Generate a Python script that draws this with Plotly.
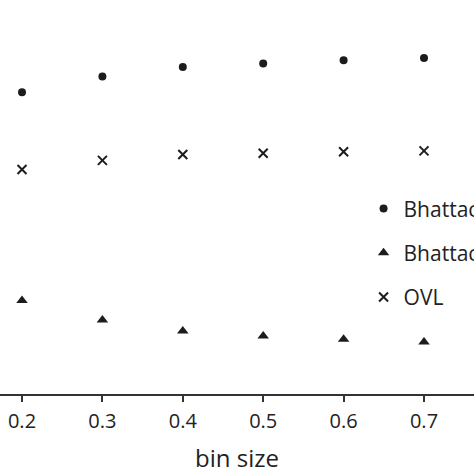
import plotly.graph_objects as go

bin_size = [0.2, 0.3, 0.4, 0.5, 0.6, 0.7]
bc_coef = [0.766, 0.806, 0.830, 0.839, 0.847, 0.853]
bc_dist = [0.237, 0.188, 0.160, 0.147, 0.139, 0.132]
ovl = [0.570, 0.593, 0.608, 0.611, 0.615, 0.617]

names = ["Bhattacharyya coefficient", "Bhattacharyya distance", "OVL"]
col = "#1c1c1c"
font = "Open Sans, Lato, sans-serif"

fig = go.Figure()
fig.add_trace(go.Scatter(x=bin_size, y=bc_coef, mode="markers", name=names[0],
                         legendgroup="a",
                         marker=dict(symbol="circle", size=8, color=col)))
fig.add_trace(go.Scatter(x=bin_size, y=bc_dist, mode="markers", name=names[1],
                         legendgroup="b",
                         marker=dict(symbol="triangle-up", size=10, color=col)))
fig.add_trace(go.Scatter(x=bin_size, y=ovl, mode="markers", name=names[2],
                         legendgroup="c",
                         marker=dict(symbol="x-thin", size=9, color=col,
                                     line=dict(width=2, color=col))))

fig.update_layout(
    width=474, height=474,
    margin=dict(l=0, r=0, t=0, b=80, autoexpand=False),
    paper_bgcolor="white", plot_bgcolor="white",
    font=dict(family=font, size=20, color="#222"),
    legend=dict(x=0.767, y=0.522, xanchor="left", yanchor="top",
                bgcolor="rgba(0,0,0,0)", tracegroupgap=14,
                font=dict(size=21, color="#222")),
    xaxis=dict(range=[0.17264, 0.76219], showgrid=False, zeroline=False,
               showline=True, linecolor="#333", linewidth=1.5,
               ticks="outside", ticklen=6, tickwidth=1.5, tickcolor="#333",
               tickvals=bin_size, ticktext=[str(v) for v in bin_size],
               ticklabelstandoff=2,
               title=dict(text="bin size", standoff=20)),
    yaxis=dict(range=[0, 1], visible=False),
)

fig.write_html("out.html")
